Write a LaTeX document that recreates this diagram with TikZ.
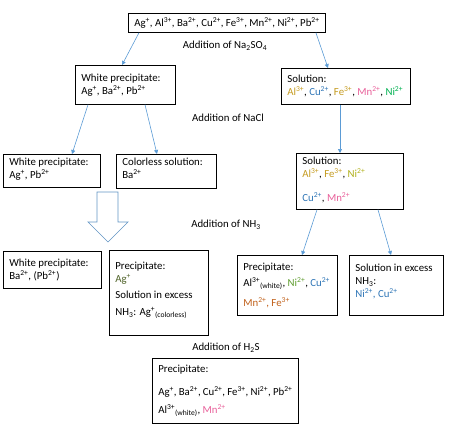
\documentclass[tikz,border=0pt]{standalone}
\usepackage{fontspec}
\setmainfont{Carlito}
\usetikzlibrary{calc,arrows.meta}
\definecolor{arrowblue}{HTML}{5B9BD5}
\definecolor{cgold}{HTML}{C49A1E}
\definecolor{cyel}{HTML}{B0B01A}
\definecolor{cblue}{HTML}{2E75B6}
\definecolor{cpink}{HTML}{E8609A}
\definecolor{cgreen}{HTML}{00B050}
\definecolor{colive}{HTML}{5E9C2E}
\definecolor{cbrown}{HTML}{C0601A}
\definecolor{cdkgreen}{HTML}{4F6228}
\newcommand{\sps}[1]{\textsuperscript{#1}}
\newcommand{\sbs}[1]{\textsubscript{#1}}
\begin{document}
\begin{tikzpicture}[x=1pt,y=-1pt,
  every node/.style={font=\fontsize{10.8}{13}\selectfont},
  box/.style={draw=black,line width=0.7pt,anchor=north west,inner xsep=6pt,inner ysep=4pt,align=left},
  lbl/.style={inner sep=0pt},
  conn/.style={draw=arrowblue,line width=0.6pt,-{Triangle[length=4pt,width=4pt]}},
  hollow/.style={draw=arrowblue!80!gray,line width=0.7pt,fill=white}]
\useasboundingbox (0,0) rectangle (450,428);

\node[box,minimum width=194pt,minimum height=19pt,anchor=north west,align=center] (top) at (128,13)
  {Ag\sps{+}, Al\sps{3+}, Ba\sps{2+}, Cu\sps{2+}, Fe\sps{3+}, Mn\sps{2+}, Ni\sps{2+}, Pb\sps{2+}};

\node[lbl] (l1) at (225,46) {Addition of Na\sbs{2}SO\sbs{4}};

\node[box] (wp1) at (75,65) {\parbox[c][31pt][t]{88pt}{\vspace{5pt}White precipitate:\\Ag\sps{+}, Ba\sps{2+}, Pb\sps{2+}}};

\node[box] (sol1) at (281,68) {\parbox[c][28pt][t]{117pt}{\vspace{3pt}Solution:\\
  \textcolor{cgold}{Al\sps{3+}}, \textcolor{cblue}{Cu\sps{2+}}, \textcolor{cgold}{Fe\sps{3+}}, \textcolor{cpink}{Mn\sps{2+}}, \textcolor{cgreen}{Ni\sps{2+}}}};

\node[lbl] (l2) at (228,118) {Addition of NaCl};

\node[box] (wp2) at (3,154) {\parbox[c][25pt][t]{85pt}{White precipitate:\\Ag\sps{+}, Pb\sps{2+}}};

\node[box] (cs) at (116,154) {\parbox[c][26pt][t]{88pt}{Colorless solution:\\Ba\sps{2+}}};

\node[box] (sol2) at (296,153) {\parbox[c][48pt][t]{95pt}{Solution:\\
  \textcolor{cgold}{Al\sps{3+}}, \textcolor{cgold}{Fe\sps{3+}}, \textcolor{cyel}{Ni\sps{2+}}\\[11pt]
  \textcolor{cblue}{Cu\sps{2+}}, \textcolor{cpink}{Mn\sps{2+}}}};

\draw[hollow] (97,192) -- (118,192) -- (118,222) -- (128,222) -- (108,242) -- (88,222) -- (97,222) -- cycle;

\node[lbl] (l3) at (226,225) {Addition of NH\sbs{3}};

\node[box] (wp3) at (3,251) {\parbox[c][29pt][t]{86pt}{\vspace{4pt}White precipitate:\\Ba\sps{2+}, (Pb\sps{2+})}};

\node[box] (pag) at (109,250) {\parbox[c][77pt][t]{87pt}{\vspace{8pt}Precipitate:\\
  \textcolor{cdkgreen}{Ag\sps{+}}\\[3pt]
  Solution in excess\\[4pt]
  NH\sbs{3}: Ag\sps{+}\sbs{(colorless)}}};

\node[box] (pr) at (237,255) {\parbox[c][52pt][t]{88pt}{\vspace{4pt}Precipitate:\\[3pt]
  Al\sps{3+}\sbs{(white)}, \textcolor{colive}{Ni\sps{2+}}, \textcolor{cblue}{Cu\sps{2+}}\\[7pt]
  \textcolor{cbrown}{Mn\sps{2+}, Fe\sps{3+}}}};

\node[box] (se) at (349,255) {\parbox[c][52pt][t]{82pt}{\vspace{5pt}Solution in excess\\NH\sbs{3}:\\
  \textcolor{cblue}{Ni\sps{2+}, Cu\sps{2+}}}};

\node[lbl] (l4) at (226,348) {Addition of H\sbs{2}S};

\node[box] (fin) at (152,358) {\parbox[c][57pt][t]{134pt}{\vspace{3pt}Precipitate:\\[10pt]
  Ag\sps{+}, Ba\sps{2+}, Cu\sps{2+}, Fe\sps{3+}, Ni\sps{2+}, Pb\sps{2+}\\[5pt]
  Al\sps{3+}\sbs{(white)}, \textcolor{cpink}{Mn\sps{2+}}}};

\draw[conn] ($(top.south west)+(11,0)$) -- ($(wp1.north west)+(47,0)$);
\draw[conn] ($(top.south east)+(-10,0)$) -- ($(sol1.north west)+(47,0)$);
\draw[conn] ($(wp1.south west)+(13,0)$) -- ($(wp2.north west)+(69,0)$);
\draw[conn] ($(wp1.south west)+(70,0)$) -- ($(cs.north west)+(41,0)$);
\draw[conn] ($(sol1.south west)+(59,0)$) -- ($(sol2.north west)+(44,0)$);
\draw[conn] ($(sol2.south west)+(21,0)$) -- ($(pr.north west)+(65,0)$);
\draw[conn] ($(sol2.south west)+(82,0)$) -- ($(se.north west)+(42,0)$);
\end{tikzpicture}
\end{document}
